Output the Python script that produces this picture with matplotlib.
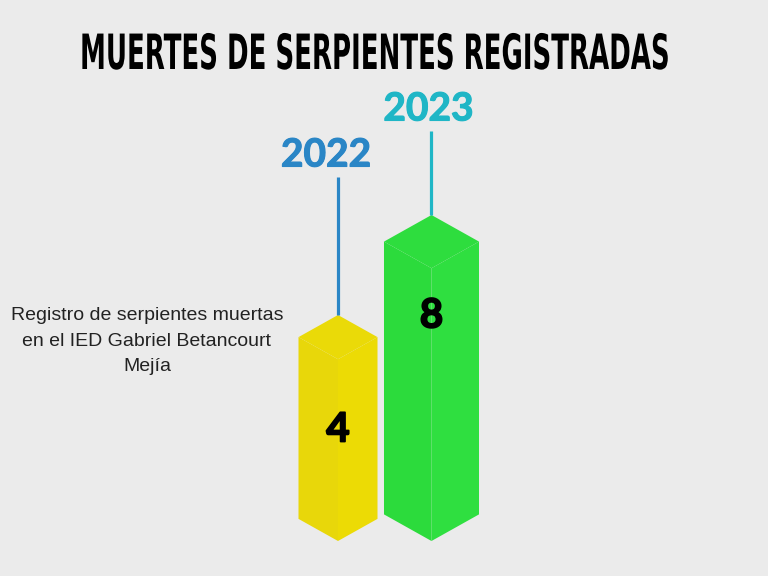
import matplotlib
matplotlib.use("Agg")
import matplotlib.pyplot as plt
from matplotlib import patheffects
from matplotlib.patches import Polygon
from matplotlib.transforms import Affine2D

# Data
years = ["2022", "2023"]
deaths = [4, 8]
title = "MUERTES DE SERPIENTES REGISTRADAS"
note = "Registro de serpientes muertas\nen el IED Gabriel Betancourt\nMejía"

# Styles
bg = "#ebebeb"
face_left = ["#e8d70a", "#2cdb3c"]
face_right = ["#ecdb05", "#2fdf40"]
face_top = ["#eada08", "#2edd3e"]
year_colors = ["#2a86c6", "#1fb6c6"]
half_widths_px = [39.5, 47.5]
label_y_px = [155, 109]
label_dx_px = [-12, -3]
number_dy = [-0.6, 3.96]

W, H = 768, 576
fig = plt.figure(figsize=(W / 100, H / 100), dpi=100, facecolor=bg)
ax = fig.add_axes([0, 0, 1, 1])
ax.set_facecolor(bg)
ax.axis("off")

# value scale: 25 px per death, baseline of the prisms below zero
ax.set_xlim(-3.615, 4.599)
ax.set_ylim(-6.44, 16.6)
base = -5.04

x0, x1 = ax.get_xlim()
y0, y1 = ax.get_ylim()
px_x = W / (x1 - x0)
px_y = H / (y1 - y0)


class Squeeze(patheffects.AbstractPathEffect):
    # rescale drawn text about a fixed point (condensed headline look)
    def __init__(self, sx, sy, cx, cy):
        super().__init__()
        self.sx, self.sy = sx, sy
        self.cx, self.cy = cx, cy

    def draw_path(self, renderer, gc, tpath, affine, rgbFace=None):
        sq = (Affine2D().translate(-self.cx, -self.cy)
              .scale(self.sx, self.sy).translate(self.cx, self.cy))
        renderer.draw_path(gc, tpath, affine + sq, rgbFace)


num_font = ["Lato", "DejaVu Sans"]

for i, (yr, v) in enumerate(zip(years, deaths)):
    cx = i
    hw = half_widths_px[i] / px_x
    dy = 0.56 * half_widths_px[i] / px_y
    top = v
    left = [(cx - hw, top - dy), (cx, top - 2 * dy), (cx, base), (cx - hw, base + dy)]
    right = [(cx + hw, top - dy), (cx, top - 2 * dy), (cx, base), (cx + hw, base + dy)]
    cap = [(cx, top), (cx + hw, top - dy), (cx, top - 2 * dy), (cx - hw, top - dy)]
    ax.add_patch(Polygon(left, closed=True, facecolor=face_left[i], edgecolor="none"))
    ax.add_patch(Polygon(right, closed=True, facecolor=face_right[i], edgecolor="none"))
    ax.add_patch(Polygon(cap, closed=True, facecolor=face_top[i], edgecolor="none"))

    # stem and year label
    ly = y1 - label_y_px[i] / px_y
    stem_top = ly - 22 / px_y
    ax.vlines(cx, top, stem_top, color=year_colors[i], linewidth=2.3)
    ax.text(cx + label_dx_px[i] / px_x, ly, yr, ha="center", va="center",
            fontsize=28, fontweight="bold", family=num_font, color=year_colors[i],
            path_effects=[patheffects.withStroke(linewidth=0.8, foreground=year_colors[i])])

    # value label
    ax.text(cx, number_dy[i], str(v), ha="center", va="center",
            fontsize=29, fontweight="bold", family=num_font, color="black",
            path_effects=[patheffects.withStroke(linewidth=1.3, foreground="black")])

fig.text(147 / W, 1 - 341 / H, note, ha="center", va="center", multialignment="center",
         fontsize=14, family="Liberation Sans", color="#222222", linespacing=1.65)

t = fig.text(374 / W, 1 - 55 / H, title, ha="center", va="center",
             fontsize=20, fontweight="bold", family="DejaVu Sans", color="black")
renderer = fig.canvas.get_renderer()
bb = t.get_window_extent(renderer)
t.set_path_effects([Squeeze(588 / bb.width, 35 / 20, bb.x0 + bb.width / 2,
                            bb.y0 + bb.height / 2)])

plt.savefig("out.png", dpi=100, facecolor=bg)
plt.close(fig)
